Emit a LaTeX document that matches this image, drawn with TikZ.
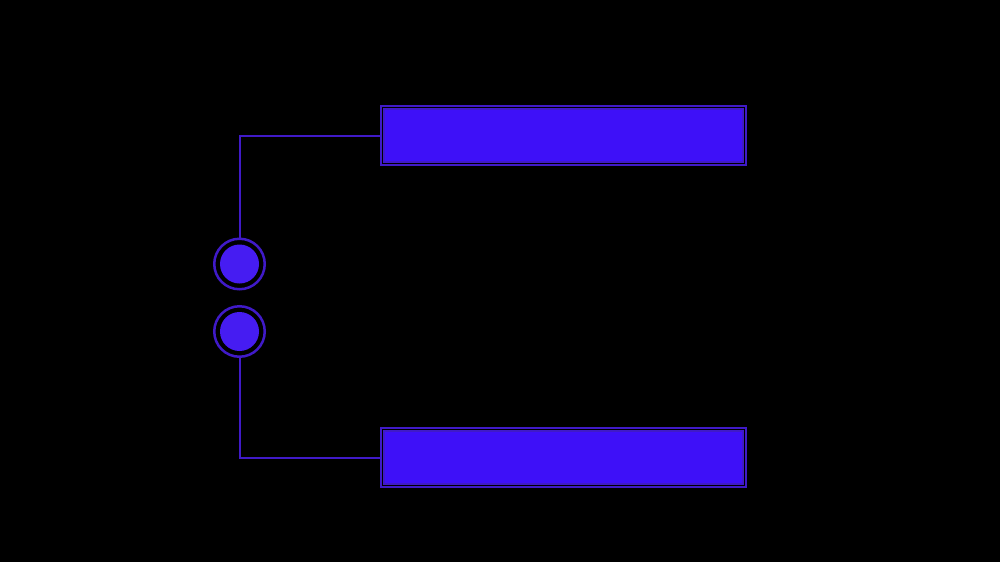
\documentclass[tikz,border=0pt]{standalone}
\usepackage{tikz}
\usetikzlibrary{positioning}
\definecolor{barfill}{RGB}{62,16,248}
\definecolor{barline}{RGB}{64,26,200}
\definecolor{dotfill}{RGB}{70,28,242}
\tikzset{
    bar/.style={rectangle, draw=barline, fill=barfill, line width=2pt,
      double=black, double distance=1pt, inner sep=0pt,
      minimum width=362pt, minimum height=56pt},
    dot/.style={circle, draw=barline, line width=2.5pt, inner sep=0pt,
      minimum size=50.5pt,
      path picture={\fill[dotfill] (path picture bounding box.center) circle (19.5);}},
    wire/.style={draw=barline, line width=2pt},
}

\begin{document}
\begin{tikzpicture}[x=1pt, y=-1pt]
    \fill[black] (0,0) rectangle (1000,562);
    \useasboundingbox (0,0) rectangle (1000,562);

    \node[bar] (top) at (563.5,135.5) {};
    \node[bar, below=264pt of top] (bot) {};
    \node[dot] (c1) at (239.5,264) {};
    \node[dot, below=14.5pt of c1] (c2) {};

    \draw[wire] (top.west) -| (c1.north);
    \draw[wire] (bot.west) -| (c2.south);
\end{tikzpicture}
\end{document}
